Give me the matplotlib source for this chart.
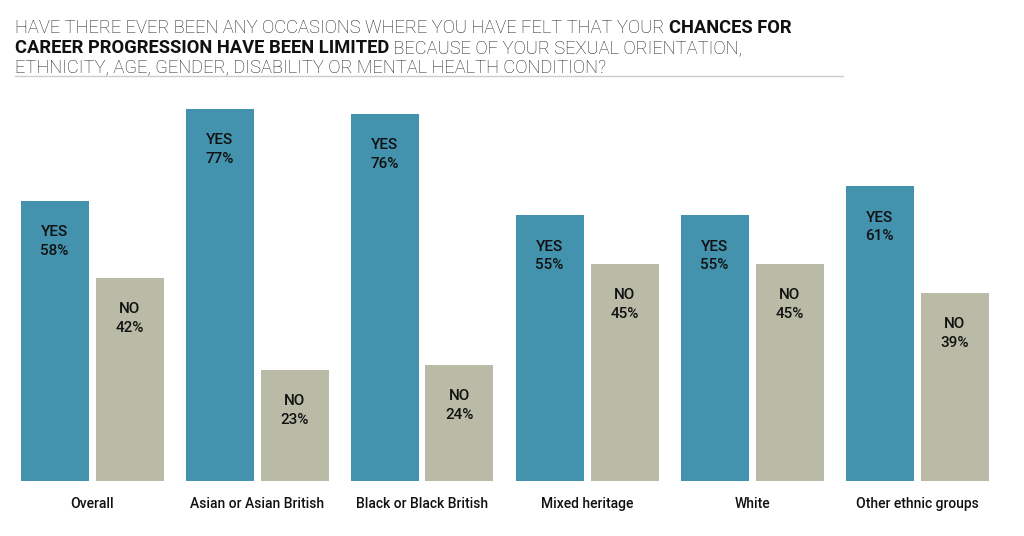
import matplotlib
matplotlib.use("Agg")
import matplotlib.pyplot as plt
from matplotlib.lines import Line2D
import numpy as np

# data
groups = ["Overall", "Asian or Asian British", "Black or Black British",
          "Mixed heritage", "White", "Other ethnic groups"]
yes_vals = [58, 77, 76, 55, 55, 61]
no_vals = [42, 23, 24, 45, 45, 39]

title_lines = [
    [("HAVE THERE EVER BEEN ANY OCCASIONS WHERE YOU HAVE FELT THAT YOUR ", False), ("CHANCES FOR", True)],
    [("CAREER PROGRESSION HAVE BEEN LIMITED", True), (" BECAUSE OF YOUR SEXUAL ORIENTATION,", False)],
    [("ETHNICITY, AGE, GENDER, DISABILITY OR MENTAL HEALTH CONDITION?", False)],
]

blue = "#4392AE"
beige = "#B9BBA7"
W, H = 1024, 536

plt.rcParams['font.family'] = ['Roboto', 'DejaVu Sans']

fig = plt.figure(figsize=(W / 100, H / 100), dpi=100)
fig.patch.set_facecolor("white")

# axes placed in pixel terms: bars from x=20 to 989, baseline at y=481
ax = fig.add_axes([20 / W, 55 / H, (989 - 20) / W, 80 * 4.83 / H])
step = 165.0
w = 68 / step
gap = 7 / step
x = np.arange(len(groups))
xy = x - (w + gap) / 2
xn = x + (w + gap) / 2
ax.bar(xy, yes_vals, width=w, color=blue)
ax.bar(xn, no_vals, width=w, color=beige)
ax.set_xlim(-72 / step, len(groups) - 1 + 72 / step)
ax.set_ylim(0, 80)
ax.axis("off")

lab_kw = dict(ha="center", va="center", fontsize=11, fontweight="medium", color="#111111",
              textcoords="offset points")
for xi, v in zip(xy, yes_vals):
    ax.annotate("YES", (xi, v), xytext=(0, -22.5), **lab_kw)
    ax.annotate(f"{v}%", (xi, v), xytext=(0, -36), **lab_kw)
for xi, v in zip(xn, no_vals):
    ax.annotate("NO", (xi, v), xytext=(0, -22.5), **lab_kw)
    ax.annotate(f"{v}%", (xi, v), xytext=(0, -36), **lab_kw)
for xi, g in zip(x, groups):
    ax.annotate(g, (xi, 0), xytext=(0, -16.5), ha="center", va="center", fontsize=10,
                fontweight="medium", color="#111111", textcoords="offset points")

# title with bold pieces, fitted to width of the reference line 1
fig.canvas.draw()
r = fig.canvas.get_renderer()

def piece_width(txt, bold, size):
    t = fig.text(0, 0, txt.replace(" ", "\u00a0"), fontsize=size,
                 fontweight="bold" if bold else "light")
    wd = t.get_window_extent(r).width
    t.remove()
    return wd

base = 10
w1 = sum(piece_width(t, b, base) for t, b in title_lines[0])
tsize = base * 778 / w1

baselines = [33, 53, 72]
for line, yb in zip(title_lines, baselines):
    xp = 15
    for txt, bold in line:
        t = fig.text(xp / W, 1 - yb / H, txt.replace(" ", "\u00a0"), fontsize=tsize,
                     fontweight="bold" if bold else "light",
                     color="#111111" if bold else "#222222", va="baseline", ha="left")
        xp += t.get_window_extent(r).width

fig.add_artist(Line2D([15 / W, 843 / W], [1 - 76 / H, 1 - 76 / H], color="#cccccc", lw=1))

fig.savefig("out.png", dpi=100, facecolor="white")
